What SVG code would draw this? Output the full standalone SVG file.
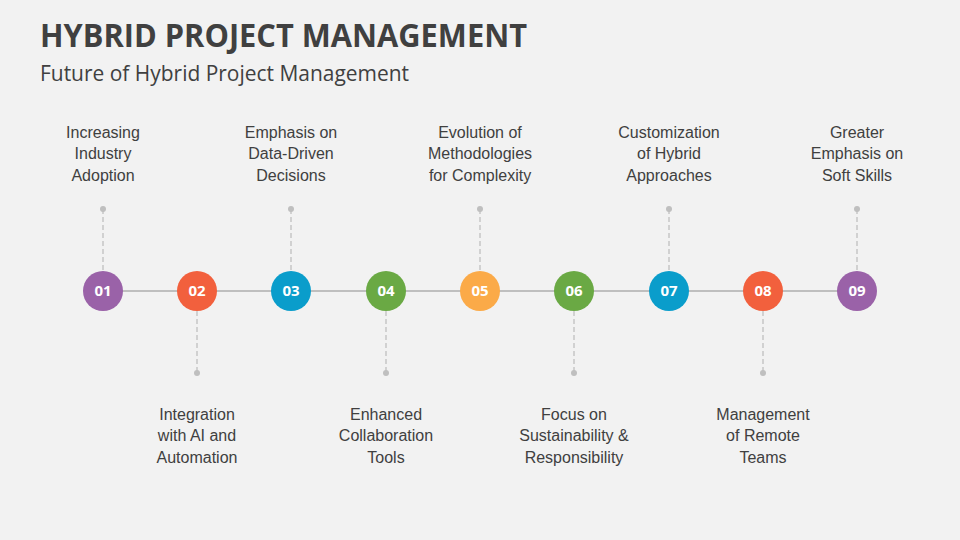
<svg xmlns="http://www.w3.org/2000/svg" width="960" height="540" viewBox="0 0 960 540">
<style>
.lbl{font-family:"Liberation Sans",Arial,sans-serif;font-size:16px;fill:#404040;text-anchor:middle}
.num{font-family:"Open Sans","Liberation Sans",sans-serif;font-size:15px;font-weight:bold;fill:#ffffff;text-anchor:middle}
.dash{stroke:#bfbfbf;stroke-width:1.3;stroke-dasharray:5 3;fill:none}
.dot{fill:#bfbfbf}
</style>
<rect width="960" height="540" fill="#f2f2f2"/>
<text x="40" y="47" font-family="'Open Sans','Liberation Sans',sans-serif" font-weight="bold" font-size="33" fill="#404040" textLength="487" lengthAdjust="spacingAndGlyphs">HYBRID PROJECT MANAGEMENT</text>
<text x="40" y="81" font-family="'Open Sans','Liberation Sans',sans-serif" font-size="21" fill="#404040" textLength="369" lengthAdjust="spacingAndGlyphs">Future of Hybrid Project Management</text>
<g id="connectors">
<line x1="103" y1="291" x2="857" y2="291" stroke="#bfbfbf" stroke-width="2"/>
<line class="dash" x1="103" y1="209" x2="103" y2="271"/>
<line class="dash" x1="197" y1="311" x2="197" y2="373"/>
<line class="dash" x1="291" y1="209" x2="291" y2="271"/>
<line class="dash" x1="386" y1="311" x2="386" y2="373"/>
<line class="dash" x1="480" y1="209" x2="480" y2="271"/>
<line class="dash" x1="574" y1="311" x2="574" y2="373"/>
<line class="dash" x1="669" y1="209" x2="669" y2="271"/>
<line class="dash" x1="763" y1="311" x2="763" y2="373"/>
<line class="dash" x1="857" y1="209" x2="857" y2="271"/>
<circle class="dot" cx="103" cy="209" r="3"/>
<circle class="dot" cx="197" cy="373" r="3"/>
<circle class="dot" cx="291" cy="209" r="3"/>
<circle class="dot" cx="386" cy="373" r="3"/>
<circle class="dot" cx="480" cy="209" r="3"/>
<circle class="dot" cx="574" cy="373" r="3"/>
<circle class="dot" cx="669" cy="209" r="3"/>
<circle class="dot" cx="763" cy="373" r="3"/>
<circle class="dot" cx="857" cy="209" r="3"/>
</g>
<g id="node1">
<circle cx="103" cy="291" r="20" fill="#9a62a8"/>
<text class="num" x="103" y="296">01</text>
<text class="lbl" x="103" y="138">Increasing</text><text class="lbl" x="103" y="159">Industry</text><text class="lbl" x="103" y="181">Adoption</text>
</g>
<g id="node2">
<circle cx="197" cy="291" r="20" fill="#f2603d"/>
<text class="num" x="197" y="296">02</text>
<text class="lbl" x="197" y="420">Integration</text><text class="lbl" x="197" y="441">with AI and</text><text class="lbl" x="197" y="463">Automation</text>
</g>
<g id="node3">
<circle cx="291" cy="291" r="20" fill="#0a9dcb"/>
<text class="num" x="291" y="296">03</text>
<text class="lbl" x="291" y="138">Emphasis on</text><text class="lbl" x="291" y="159">Data-Driven</text><text class="lbl" x="291" y="181">Decisions</text>
</g>
<g id="node4">
<circle cx="386" cy="291" r="20" fill="#6aa944"/>
<text class="num" x="386" y="296">04</text>
<text class="lbl" x="386" y="420">Enhanced</text><text class="lbl" x="386" y="441">Collaboration</text><text class="lbl" x="386" y="463">Tools</text>
</g>
<g id="node5">
<circle cx="480" cy="291" r="20" fill="#fbaa48"/>
<text class="num" x="480" y="296">05</text>
<text class="lbl" x="480" y="138">Evolution of</text><text class="lbl" x="480" y="159">Methodologies</text><text class="lbl" x="480" y="181">for Complexity</text>
</g>
<g id="node6">
<circle cx="574" cy="291" r="20" fill="#6aa944"/>
<text class="num" x="574" y="296">06</text>
<text class="lbl" x="574" y="420">Focus on</text><text class="lbl" x="574" y="441">Sustainability &amp;</text><text class="lbl" x="574" y="463">Responsibility</text>
</g>
<g id="node7">
<circle cx="669" cy="291" r="20" fill="#0a9dcb"/>
<text class="num" x="669" y="296">07</text>
<text class="lbl" x="669" y="138">Customization</text><text class="lbl" x="669" y="159">of Hybrid</text><text class="lbl" x="669" y="181">Approaches</text>
</g>
<g id="node8">
<circle cx="763" cy="291" r="20" fill="#f2603d"/>
<text class="num" x="763" y="296">08</text>
<text class="lbl" x="763" y="420">Management</text><text class="lbl" x="763" y="441">of Remote</text><text class="lbl" x="763" y="463">Teams</text>
</g>
<g id="node9">
<circle cx="857" cy="291" r="20" fill="#9a62a8"/>
<text class="num" x="857" y="296">09</text>
<text class="lbl" x="857" y="138">Greater</text><text class="lbl" x="857" y="159">Emphasis on</text><text class="lbl" x="857" y="181">Soft Skills</text>
</g>
</svg>
